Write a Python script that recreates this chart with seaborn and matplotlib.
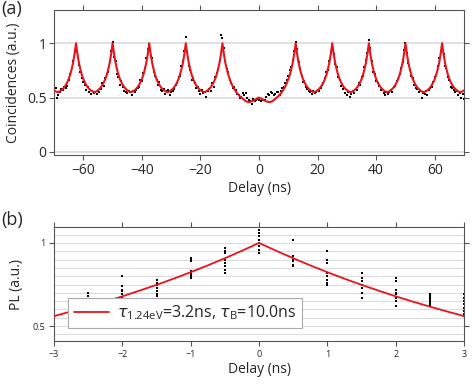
"""
Two-panel figure: (a) coincidence histogram vs delay with fit,
(b) PL vs delay with exponential model.
"""
import numpy as np
import pandas as pd
import matplotlib
matplotlib.use("Agg")
import matplotlib.pyplot as plt
from matplotlib.ticker import MultipleLocator
import seaborn as sns

# ---- panel (a): coincidences, 0.5 ns bins from -70 to 70 ns ----
bin_width = 0.5
delay_a = np.arange(-70, 70 + bin_width / 2, bin_width)

coinc = (
    # -70 .. -63
    [0.49, 0.59, 0.50, 0.52, 0.55, 0.58, 0.57, 0.60, 0.59, 0.61, 0.66, 0.72, 0.77, 0.84, 0.92]
    # -62.5 .. -50.5
    + [0.97, 0.93, 0.80, 0.74, 0.68, 0.64, 0.62, 0.57, 0.60, 0.55, 0.53, 0.56, 0.54,
       0.55, 0.53, 0.56, 0.55, 0.58, 0.63, 0.61, 0.68, 0.72, 0.74, 0.84, 0.93]
    # -50 .. -38
    + [1.01, 0.87, 0.84, 0.72, 0.69, 0.62, 0.65, 0.60, 0.56, 0.55, 0.54, 0.56, 0.55,
       0.52, 0.56, 0.55, 0.57, 0.59, 0.60, 0.66, 0.65, 0.73, 0.77, 0.86, 0.95]
    # -37.5 .. -25.5
    + [0.99, 0.88, 0.86, 0.74, 0.70, 0.66, 0.62, 0.64, 0.57, 0.56, 0.58, 0.53, 0.56,
       0.57, 0.52, 0.55, 0.56, 0.58, 0.62, 0.63, 0.69, 0.70, 0.79, 0.84, 0.93]
    # -25 .. -13
    + [1.06, 0.92, 0.79, 0.75, 0.66, 0.68, 0.63, 0.59, 0.60, 0.56, 0.53, 0.57, 0.54,
       0.55, 0.51, 0.56, 0.58, 0.56, 0.63, 0.60, 0.69, 0.73, 0.76, 0.85, 1.08]
    # -12.5 .. -6.5
    + [1.05, 0.96, 0.84, 0.76, 0.74, 0.66, 0.63, 0.59, 0.60, 0.57, 0.53, 0.52, 0.50]
    # -6 .. 0
    + [0.51, 0.54, 0.52, 0.54, 0.50, 0.48, 0.47, 0.44, 0.49, 0.47, 0.48, 0.49, 0.48]
    # 0.5 .. 6
    + [0.47, 0.49, 0.48, 0.48, 0.51, 0.53, 0.52, 0.55, 0.54, 0.52, 0.53, 0.55]
    # 6.5 .. 12
    + [0.55, 0.52, 0.56, 0.59, 0.60, 0.63, 0.66, 0.70, 0.75, 0.78, 0.85, 0.93]
    # 12.5 .. 24.5
    + [1.01, 0.95, 0.83, 0.77, 0.70, 0.64, 0.65, 0.60, 0.58, 0.56, 0.55, 0.53, 0.56,
       0.54, 0.55, 0.57, 0.56, 0.59, 0.62, 0.63, 0.68, 0.74, 0.75, 0.84, 0.92]
    # 25 .. 37
    + [0.98, 0.90, 0.81, 0.78, 0.69, 0.66, 0.61, 0.58, 0.59, 0.54, 0.52, 0.55, 0.51,
       0.53, 0.56, 0.54, 0.58, 0.57, 0.63, 0.62, 0.69, 0.70, 0.78, 0.85, 0.91]
    # 37.5 .. 49.5
    + [1.03, 0.96, 0.84, 0.74, 0.72, 0.65, 0.63, 0.61, 0.57, 0.58, 0.54, 0.52, 0.55,
       0.53, 0.55, 0.57, 0.55, 0.60, 0.61, 0.65, 0.67, 0.72, 0.77, 0.83, 0.94]
    # 50 .. 62
    + [1.00, 0.91, 0.82, 0.75, 0.70, 0.68, 0.62, 0.59, 0.58, 0.55, 0.56, 0.50, 0.54,
       0.53, 0.56, 0.52, 0.57, 0.59, 0.60, 0.64, 0.69, 0.71, 0.79, 0.86, 0.92]
    # 62.5 .. 70
    + [0.97, 0.90, 0.79, 0.77, 0.69, 0.66, 0.60, 0.59, 0.57, 0.55, 0.56, 0.52, 0.54,
       0.50, 0.53, 0.49]
)

# fit shape, value vs offset (0 .. 6 ns, 0.5 ns steps)
period = 12.5
peak_flank = [1.0, 0.90, 0.82, 0.76, 0.71, 0.67, 0.64, 0.615, 0.595, 0.58, 0.567, 0.558, 0.552]
inner_flank = [1.0, 0.90, 0.82, 0.76, 0.71, 0.67, 0.635, 0.605, 0.58, 0.56, 0.54, 0.525, 0.51]
centre_flank = [0.50, 0.494, 0.487, 0.479, 0.471, 0.465, 0.461, 0.459, 0.461, 0.467, 0.476, 0.487, 0.499]


def fit_value(t):
    a = abs(t)
    if a <= 6:
        return centre_flank[int(round(a / bin_width))]
    if a < period:
        return inner_flank[int(round((period - a) / bin_width))]
    p = round(t / period) * period
    return peak_flank[int(round(abs(t - p) / bin_width))]


fit_a = [fit_value(t) for t in delay_a]

# ---- panel (b): PL vs delay ----
delay_b = [-3, -2.5, -2, -1.5, -1, -0.5, 0, 0.5, 1, 1.5, 2, 2.5, 3]
pl_points = [
    [0.69, 0.67, 0.65, 0.63, 0.61, 0.59, 0.57, 0.56],
    [0.70, 0.68, 0.66, 0.65, 0.63, 0.62, 0.60],
    [0.80, 0.74, 0.72, 0.71, 0.69, 0.67, 0.65, 0.64],
    [0.78, 0.76, 0.745, 0.73, 0.71, 0.69, 0.68],
    [0.91, 0.90, 0.89, 0.83, 0.82, 0.81, 0.80, 0.79],
    [0.97, 0.95, 0.94, 0.90, 0.88, 0.86, 0.84, 0.82],
    [1.08, 1.06, 1.04, 1.02, 1.00, 0.98, 0.96, 0.94],
    [1.02, 0.92, 0.90, 0.89, 0.87, 0.86],
    [0.95, 0.90, 0.88, 0.82, 0.80, 0.78, 0.76, 0.75],
    [0.82, 0.79, 0.77, 0.75, 0.73, 0.70, 0.67],
    [0.79, 0.77, 0.72, 0.70, 0.69, 0.67, 0.65, 0.62],
    [0.69, 0.68, 0.67, 0.66, 0.65, 0.64, 0.63, 0.62],
    [0.69, 0.67, 0.65, 0.63, 0.61, 0.59, 0.57, 0.56],
]
model_delay = [-3, -2.75, -2.5, -2.25, -2, -1.75, -1.5, -1.25, -1, -0.75, -0.5, -0.25, 0,
               0.25, 0.5, 0.75, 1, 1.25, 1.5, 1.75, 2, 2.25, 2.5, 2.75, 3]
model_pl = [0.56, 0.588, 0.617, 0.647, 0.679, 0.713, 0.748, 0.785, 0.824, 0.865, 0.908, 0.953, 1.0,
            0.953, 0.908, 0.865, 0.824, 0.785, 0.748, 0.713, 0.679, 0.647, 0.617, 0.588, 0.56]

df_a = pd.DataFrame({"delay": delay_a, "coinc": coinc, "fit": fit_a})
df_b = pd.DataFrame(
    [(d, v) for d, vals in zip(delay_b, pl_points) for v in vals], columns=["delay", "pl"]
)
df_model = pd.DataFrame({"delay": model_delay, "pl": model_pl})

sns.set_style("ticks")
plt.rcParams["font.family"] = ["Open Sans", "DejaVu Sans"]
plt.rcParams["mathtext.fontset"] = "dejavusans"

RED = "#e8141c"
SPINE = "#555555"
GRID = "#dcdcdc"

fig = plt.figure(figsize=(4.74, 3.88), dpi=100)
ax_a = fig.add_axes([0.114, 0.600, 0.865, 0.374])
ax_b = fig.add_axes([0.114, 0.121, 0.865, 0.294])

# (a)
for y in [0, 0.5, 1]:
    ax_a.axhline(y, color=GRID, lw=1.2, zorder=0)
sns.scatterplot(data=df_a, x="delay", y="coinc", ax=ax_a, color="black",
                marker="s", s=3.5, linewidth=0, zorder=2)
sns.lineplot(data=df_a, x="delay", y="fit", ax=ax_a, color=RED, lw=1.5, zorder=3)
ax_a.set_xlim(-70, 70)
ax_a.set_ylim(-0.03, 1.305)
ax_a.set_xticks([-60, -40, -20, 0, 20, 40, 60])
ax_a.set_yticks([0, 0.5, 1])
ax_a.set_yticklabels(["0", "0.5", "1"])
ax_a.set_xlabel("Delay (ns)", fontsize=10, labelpad=2)
ax_a.set_ylabel("Coincidences (a.u.)", fontsize=10, labelpad=4)
ax_a.tick_params(axis="both", labelsize=10, length=3.5, color=SPINE,
                 top=True, right=True, direction="out", pad=2)

# (b)
ax_b.yaxis.set_minor_locator(MultipleLocator(0.05))
ax_b.grid(axis="y", which="both", color=GRID, lw=0.8, zorder=0)
ax_b.set_axisbelow(True)
sns.scatterplot(data=df_b, x="delay", y="pl", ax=ax_b, color="black",
                marker="s", s=3.5, linewidth=0, zorder=2)
sns.lineplot(data=df_model, x="delay", y="pl", ax=ax_b, color=RED, lw=1.3, zorder=3,
             label=r"$\tau_{\mathregular{1.24eV}}$=3.2ns, $\tau_{\mathregular{B}}$=10.0ns")
ax_b.set_xlim(-3, 3)
ax_b.set_ylim(0.41, 1.096)
ax_b.set_xticks([-3, -2, -1, 0, 1, 2, 3])
ax_b.set_yticks([0.5, 1])
ax_b.set_yticklabels(["0.5", "1"])
ax_b.set_xlabel("Delay (ns)", fontsize=10, labelpad=2)
ax_b.set_ylabel("PL (a.u.)", fontsize=10, labelpad=6)
ax_b.tick_params(axis="both", which="major", labelsize=6.5, length=3.5, color=SPINE,
                 top=True, right=True, direction="out", pad=3)
ax_b.tick_params(axis="y", which="minor", length=0)
leg = ax_b.legend(loc="lower left", bbox_to_anchor=(0.034, 0.114), borderaxespad=0,
                  fontsize=11.5, frameon=True, fancybox=False, framealpha=1,
                  edgecolor="#aaaaaa", handlelength=2.2, handletextpad=0.5,
                  borderpad=0.35)
leg.get_frame().set_linewidth(0.8)
leg.set_zorder(5)

for ax in (ax_a, ax_b):
    for sp in ax.spines.values():
        sp.set_visible(True)
        sp.set_color(SPINE)
        sp.set_linewidth(0.8)

fig.text(0.002, 0.999, "(a)", fontsize=13, va="top", ha="left")
fig.text(0.002, 0.455, "(b)", fontsize=13, va="top", ha="left")

fig.savefig("out.png", dpi=100)
